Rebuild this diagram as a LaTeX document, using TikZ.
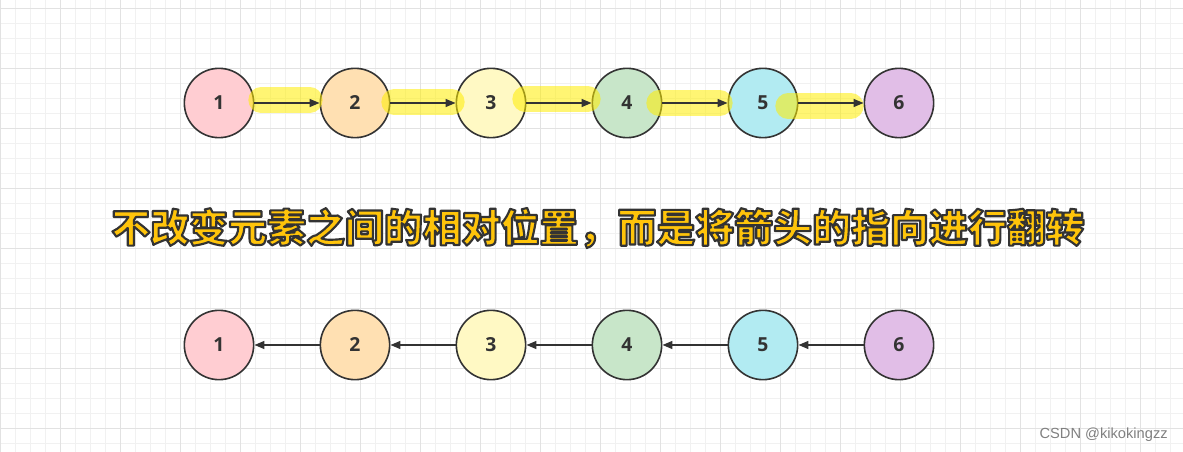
\documentclass[tikz,border=0pt]{standalone}
\usepackage{fontspec}
\usepackage{xcolor}
\usepackage{tikz}
\usetikzlibrary{arrows.meta, calc}
\newfontfamily\cjk{Noto Sans CJK SC}
\newfontfamily\numfont{Open Sans}
\newfontfamily\markfont{Liberation Sans}
\definecolor{gridminor}{RGB}{241,241,241}
\definecolor{gridmajor}{RGB}{226,226,226}
\definecolor{nodeline}{RGB}{51,51,51}
\definecolor{fillone}{RGB}{255,205,210}
\definecolor{filltwo}{RGB}{255,224,178}
\definecolor{fillthree}{RGB}{255,249,196}
\definecolor{fillfour}{RGB}{200,230,201}
\definecolor{fillfive}{RGB}{178,235,242}
\definecolor{fillsix}{RGB}{225,190,231}
\definecolor{hlyellow}{RGB}{255,238,0}
\definecolor{titleyellow}{RGB}{255,196,10}
\definecolor{markgray}{RGB}{128,128,128}
% outlined text: fill and stroke render mode
\newcommand{\outlined}[1]{%
  \special{pdf:literal direct q 2 Tr 1.6 w 1 j 0.2 0.2 0.2 RG}#1\special{pdf:literal direct Q}}
\tikzset{
  listnode/.style={circle, draw=nodeline, line width=1.2pt,
    minimum size=52pt, inner sep=0pt, text=nodeline,
    font=\numfont\bfseries\fontsize{14.5}{14.5}\selectfont},
  linkarrow/.style={-{Triangle[length=7.5pt, width=6pt]}, line width=1.1pt, color=nodeline},
  hlband/.style={line width=19pt, line cap=round, color=hlyellow, opacity=0.55},
  gridline/.style={line width=0.75pt, color=gridminor},
  majorline/.style={line width=0.75pt, color=gridmajor}
}

\begin{document}
\begin{tikzpicture}[x=0.75pt, y=-0.75pt]
  \useasboundingbox (0,0) rectangle (1183,452);
  \fill[white] (0,0) rectangle (1183,452);

  % Background grid
  \foreach \x in {15,30,...,1180} {
    \draw[gridline] (\x,0) -- (\x,452);
  }
  \foreach \y in {9,24,...,450} {
    \draw[gridline] (0,\y) -- (1183,\y);
  }
  \foreach \x in {0,60,...,1180} {
    \draw[majorline] (\x,0) -- (\x,452);
  }
  \foreach \y in {9,69,...,450} {
    \draw[majorline] (0,\y) -- (1183,\y);
  }

  % List nodes, top row and bottom row
  \foreach \i/\c in {1/fillone, 2/filltwo, 3/fillthree, 4/fillfour, 5/fillfive, 6/fillsix} {
    \node[listnode, fill=\c] (top\i) at ({219+136*(\i-1)},103) {\i};
    \node[listnode, fill=\c] (bot\i) at ({219+136*(\i-1)},345) {\i};
  }

  % Highlight bands on the top row
  \draw[hlband] ($(top1)+(42,-3)$) -- ($(top2)+(-45,-3)$);
  \draw[hlband] ($(top2)+(39,-1)$) -- ($(top3)+(-39,-1)$);
  \draw[hlband] ($(top3)+(34,-4)$) -- ($(top4)+(-39,-4)$);
  \draw[hlband] ($(top4)+(32,0)$) -- ($(top5)+(-43,0)$);
  \draw[hlband] ($(top5)+(25,3)$) -- ($(top6)+(-48,3)$);

  % Arrows: forward on top, reversed on bottom
  \foreach \i in {1,...,5} {
    \pgfmathtruncatemacro{\j}{\i+1}
    \draw[linkarrow] (top\i) -- (top\j);
    \draw[linkarrow] (bot\j) -- (bot\i);
  }

  % Caption
  \node[text=titleyellow, font=\cjk\bfseries\fontsize{29.2}{29.2}\selectfont] (caption) at (598,228)
    {\outlined{不改变元素之间的相对位置，而是将箭头的指向进行翻转}};

  % Watermark
  \node[anchor=base east, text=markgray, inner sep=0pt, font=\markfont\fontsize{11}{11}\selectfont] (mark) at (1168,439) {CSDN @kikokingzz};
\end{tikzpicture}
\end{document}
